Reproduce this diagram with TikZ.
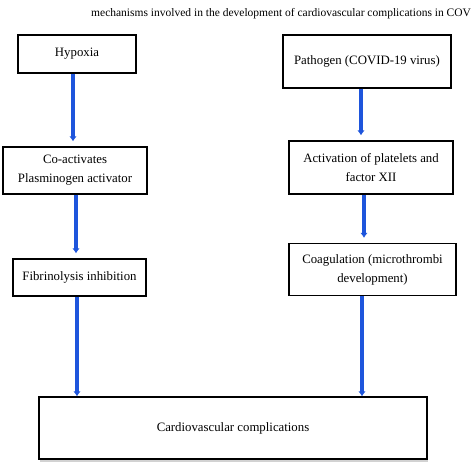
\documentclass[tikz,border=0pt]{standalone}
\usepackage{xcolor}
\usepackage{tikz}
\usepackage{fontspec}
\setmainfont{Liberation Serif}
\usetikzlibrary{arrows.meta,positioning,shadows,calc}
\definecolor{arrowBlue}{RGB}{30,85,220}

\begin{document}
\begin{tikzpicture}[x=1pt,y=-1pt,>=Latex,
  box/.style={draw,line width=1.3pt,align=center,inner sep=2pt,
    font=\fontsize{12.8}{19}\selectfont},
  flow/.style={->,arrowBlue,line width=3.4pt,
    arrows={-Latex[length=5pt,width=7.5pt]},shorten >=5pt}]
  \useasboundingbox (0,0) rectangle (474,461);
  \clip (0,0) rectangle (474,461);
  % text of the page above the figure
  \node[anchor=base west,inner sep=0pt,font=\fontsize{11.5}{14}\selectfont] (pagetext) at (91,16)
    {mechanisms involved in the development of cardiovascular complications in COV};
  % left column
  \node[box,minimum width=118pt,minimum height=38pt] (hypoxia) at (77,54) {Hypoxia};
  \node[box,minimum width=144pt,minimum height=47pt] (coact) at (75,170.5)
    {Co-activates\\Plasminogen activator};
  \node[box,minimum width=133pt,minimum height=37pt] (fibrin) at (79.5,277.5)
    {Fibrinolysis inhibition};
  % right column
  \node[box,minimum width=168pt,minimum height=53pt] (pathogen) at (367,61.5)
    {Pathogen (COVID-19 virus)};
  \node[box,minimum width=164pt,minimum height=53pt] (platelets) at (371,167.5)
    {Activation of platelets and\\factor XII};
  \node[box,minimum width=167pt,minimum height=52pt] (coag) at (372.5,269.5)
    {Coagulation (microthrombi\\development)};
  % outcome
  \node[box,minimum width=388pt,minimum height=62pt,fill=white,
    drop shadow={shadow xshift=1pt,shadow yshift=-2.5pt,fill=gray!70}] (cardio) at (233,428)
    {Cardiovascular complications};
  % connectors
  \draw[flow] ([xshift=-4pt]hypoxia.south) -- ([xshift=-4pt]hypoxia.south |- coact.north);
  \draw[flow] ([xshift=1pt]coact.south) -- ([xshift=1pt]coact.south |- fibrin.north);
  \draw[flow,shorten >=0pt] ([xshift=-2.5pt]fibrin.south) -- ([xshift=-2.5pt]fibrin.south |- cardio.north);
  \draw[flow] ([xshift=-6pt]pathogen.south) -- ([xshift=-6pt]pathogen.south |- platelets.north);
  \draw[flow] ([xshift=-7pt]platelets.south) -- ([xshift=-7pt]platelets.south |- coag.north);
  \draw[flow,shorten >=0pt] ([xshift=-10.5pt]coag.south) -- ([xshift=-10.5pt]coag.south |- cardio.north);
\end{tikzpicture}
\end{document}
